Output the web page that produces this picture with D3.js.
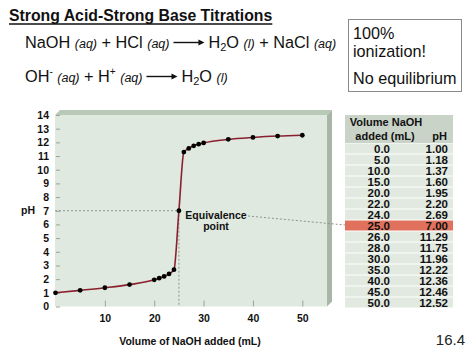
<!DOCTYPE html>
<html><head><meta charset="utf-8">
<script src="https://cdn.jsdelivr.net/npm/d3@7"></script>
<style>
html,body{margin:0;padding:0;background:#fff;}
svg{display:block;font-family:"Liberation Sans",Arial,Helvetica,sans-serif;}
</style></head>
<body>
<svg id="c" width="474" height="355"></svg>
<script>
// ---- data ----
const curveVolumes = [0, 5, 10, 15, 20, 21, 22, 23, 24, 25, 26, 27, 28, 29, 30, 35, 40, 45, 50];
const curvePH = [1.00, 1.18, 1.37, 1.60, 1.95, 2.07, 2.20, 2.38, 2.69, 7.00, 11.29, 11.56, 11.75, 11.87, 11.96, 12.22, 12.36, 12.46, 12.52];
const tableVolumes = ["0.0","5.0","10.0","15.0","20.0","22.0","24.0","25.0","26.0","28.0","30.0","35.0","40.0","45.0","50.0"];
const tablePH = ["1.00","1.18","1.37","1.60","1.95","2.20","2.69","7.00","11.29","11.75","11.96","12.22","12.36","12.46","12.52"];
const xTicks = [10, 20, 30, 40, 50];
const yTicks = [0,1,2,3,4,5,6,7,8,9,10,11,12,13,14];
const equivVolume = 25, equivPH = 7;
const boxLines = ["100%", "ionization!", "No equilibrium"];

const svg = d3.select("#c");

// ---- title ----
const title = svg.append("text").attr("x", 9).attr("y", 20.5)
  .attr("font-size", 15.8).attr("font-weight", "bold").attr("fill", "#111")
  .text("Strong Acid-Strong Base Titrations");
const tw = title.node().getComputedTextLength();
svg.append("line").attr("x1", 9).attr("x2", 9 + tw).attr("y1", 24).attr("y2", 24)
  .attr("stroke", "#111").attr("stroke-width", 1.4);

// ---- equations ----
const MAIN = 16.3, ITAL = 12.5;
function seg(t, parts) {
  parts.forEach(p => {
    const ts = t.append("tspan").text(p.t);
    if (p.i) ts.attr("font-style", "italic").attr("font-size", ITAL);
    if (p.sub) ts.attr("font-size", 11).attr("dy", 3.5);
    if (p.sup) ts.attr("font-size", 10).attr("dy", -7);
    if (p.back) ts.attr("dy", p.back);
  });
}
function equation(y, left, right) {
  const t1 = svg.append("text").attr("x", 25).attr("y", y).attr("font-size", MAIN).attr("fill", "#111");
  seg(t1, left);
  const end = 25 + t1.node().getComputedTextLength();
  const a0 = end + 4, a1 = end + 35;
  svg.append("line").attr("x1", a0).attr("x2", a1 - 5).attr("y1", y - 5).attr("y2", y - 5)
    .attr("stroke", "#111").attr("stroke-width", 1.4);
  svg.append("path").attr("d", `M${a1},${y-5}L${a1-6},${y-8}L${a1-6},${y-2}Z`).attr("fill", "#111");
  const t2 = svg.append("text").attr("x", a1 + 4).attr("y", y).attr("font-size", MAIN).attr("fill", "#111");
  seg(t2, right);
}
equation(47.5,
  [{t:"NaOH "},{t:"(aq)",i:1},{t:" + HCl "},{t:"(aq)",i:1}],
  [{t:"H"},{t:"2",sub:1},{t:"O ",back:-3.5},{t:"(l)",i:1},{t:" + NaCl "},{t:"(aq)",i:1}]);
equation(81.5,
  [{t:"OH"},{t:"-",sup:1},{t:" ",back:7},{t:"(aq)",i:1},{t:" + H"},{t:"+",sup:1},{t:" ",back:7},{t:"(aq)",i:1}],
  [{t:"H"},{t:"2",sub:1},{t:"O ",back:-3.5},{t:"(l)",i:1}]);

// ---- box ----
svg.append("rect").attr("x", 348.5).attr("y", 19.5).attr("width", 113).attr("height", 72)
  .attr("fill", "#fff").attr("stroke", "#8a8a8a").attr("stroke-width", 1);
const boxY = [38.5, 57, 84];
svg.selectAll(".bx").data(boxLines).join("text").attr("class", "bx")
  .attr("x", 353).attr("y", (d, i) => boxY[i]).attr("font-size", 16.2).attr("fill", "#111").text(d => d);

// ---- chart ----
const x = d3.scaleLinear().domain([0, 55]).range([55.5, 327]);
const y = d3.scaleLinear().domain([0, 14]).range([306.5, 115]);
const L = x(0) - 0.5, R = x(55), T = y(14), B = y(0), d3d = 5;

svg.append("rect").attr("x", L).attr("y", T).attr("width", R - L).attr("height", B - T).attr("fill", "#dfe9df");
svg.append("path").attr("d", `M${L},${T}L${L+d3d},${T-d3d}L${R+d3d},${T-d3d}L${R},${T}Z`).attr("fill", "#b9c9b8");
svg.append("path").attr("d", `M${R},${T}L${R+d3d},${T-d3d}L${R+d3d},${B-d3d}L${R},${B}Z`).attr("fill", "#a6b8a5");

const ya = svg.append("g").attr("transform", `translate(${L},0)`)
  .call(d3.axisLeft(y).tickValues(yTicks).tickSize(-4).tickPadding(6).tickFormat(d3.format("d")));
ya.select(".domain").remove();
ya.selectAll("line").attr("stroke", "#9aa59a").attr("transform", "translate(1,0)");
ya.selectAll("text").attr("font-size", 10.5).attr("font-weight", "bold").attr("fill", "#111")
  .attr("font-family", "Liberation Sans, Arial, sans-serif");

const xa = svg.append("g").attr("transform", `translate(0,${B})`)
  .call(d3.axisBottom(x).tickValues(xTicks).tickSize(-6).tickPadding(8));
xa.select(".domain").remove();
xa.selectAll("line").attr("stroke", "#9aa59a");
xa.selectAll("text").attr("font-size", 10.5).attr("font-weight", "bold").attr("fill", "#111")
  .attr("font-family", "Liberation Sans, Arial, sans-serif");

svg.append("text").attr("x", 21).attr("y", y(7) + 3.5).attr("font-size", 10.5).attr("font-weight", "bold")
  .attr("fill", "#111").text("pH");
svg.append("text").attr("x", 190).attr("y", 345).attr("text-anchor", "middle").attr("font-size", 10.5)
  .attr("font-weight", "bold").attr("fill", "#111").text("Volume of NaOH added (mL)");

// dashed guide lines
svg.append("line").attr("x1", L).attr("x2", x(equivVolume)).attr("y1", y(equivPH)).attr("y2", y(equivPH))
  .attr("stroke", "#8c968c").attr("stroke-dasharray", "2,2");
svg.append("line").attr("x1", x(equivVolume)).attr("x2", x(equivVolume)).attr("y1", y(equivPH)).attr("y2", B)
  .attr("stroke", "#8c968c").attr("stroke-dasharray", "2,2");
svg.append("line").attr("x1", 248).attr("x2", 345).attr("y1", 216).attr("y2", 225)
  .attr("stroke", "#8c968c").attr("stroke-dasharray", "2,2");

// curve
const pts = curveVolumes.map((v, i) => [v, curvePH[i]]);
svg.append("path").datum(pts)
  .attr("d", d3.line().x(d => x(d[0])).y(d => y(d[1])).curve(d3.curveMonotoneX))
  .attr("fill", "none").attr("stroke", "#8b1f2e").attr("stroke-width", 1.6);
svg.selectAll(".pt").data(pts).join("circle").attr("class", "pt")
  .attr("cx", d => x(d[0])).attr("cy", d => y(d[1])).attr("r", 2.4).attr("fill", "#000");

svg.append("text").attr("x", 216).attr("y", 219).attr("text-anchor", "middle").attr("font-size", 10.5)
  .attr("font-weight", "bold").attr("fill", "#111").text("Equivalence");
svg.append("text").attr("x", 216).attr("y", 230).attr("text-anchor", "middle").attr("font-size", 10.5)
  .attr("font-weight", "bold").attr("fill", "#111").text("point");

// ---- table ----
const tx = 345, tW = 108, rowH = 11, bodyTop = 143;
svg.append("rect").attr("x", tx).attr("y", 115).attr("width", tW).attr("height", bodyTop - 115).attr("fill", "#c9d3c7");
svg.append("text").attr("x", 386).attr("y", 126).attr("text-anchor", "middle").attr("font-size", 11)
  .attr("font-weight", "bold").attr("fill", "#111").text("Volume NaOH");
svg.append("text").attr("x", 385).attr("y", 139.5).attr("text-anchor", "middle").attr("font-size", 11)
  .attr("font-weight", "bold").attr("fill", "#111").text("added (mL)");
svg.append("text").attr("x", 447).attr("y", 139.5).attr("text-anchor", "end").attr("font-size", 11)
  .attr("font-weight", "bold").attr("fill", "#111").text("pH");

const rows = svg.selectAll(".row").data(tableVolumes).join("g").attr("class", "row")
  .attr("transform", (d, i) => `translate(0,${bodyTop + i * rowH})`);
rows.append("rect").attr("x", tx).attr("y", 0.5).attr("width", tW).attr("height", rowH - 1)
  .attr("fill", d => d === "25.0" ? "#e0725d" : "#e1e9e0");
rows.append("text").attr("x", 390).attr("y", 9.5).attr("text-anchor", "end").attr("font-size", 11.5)
  .attr("font-weight", "bold").attr("fill", "#111").text(d => d);
rows.append("text").attr("x", 448).attr("y", 9.5).attr("text-anchor", "end").attr("font-size", 11.5)
  .attr("font-weight", "bold").attr("fill", "#111").text((d, i) => tablePH[i]);

svg.append("text").attr("x", 465).attr("y", 345).attr("text-anchor", "end").attr("font-size", 15)
  .attr("fill", "#222").text("16.4");
</script>
</body></html>
